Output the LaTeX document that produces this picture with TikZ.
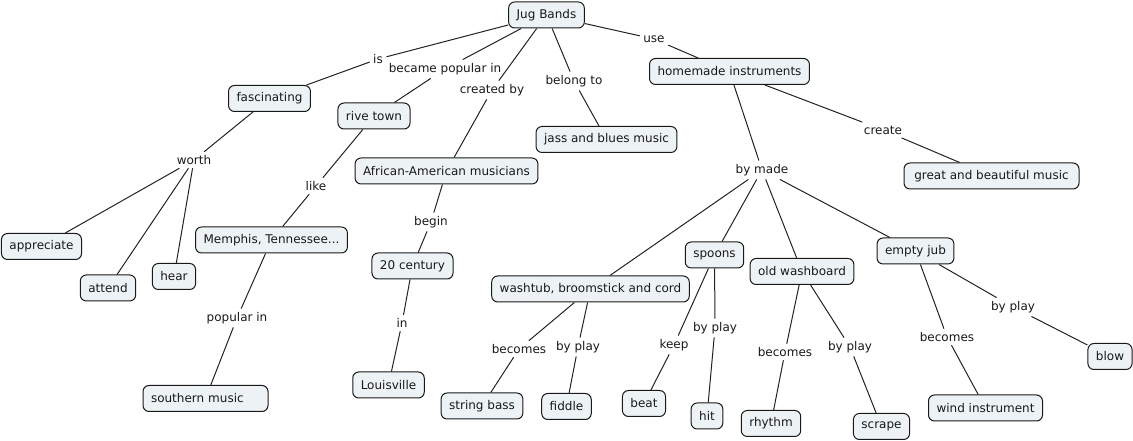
\documentclass[tikz,border=0pt]{standalone}
\usepackage{fontspec}
\setmainfont{DejaVu Sans}
\usetikzlibrary{positioning}
\definecolor{conceptfill}{RGB}{237,243,245}
\definecolor{linegray}{RGB}{35,35,35}

\begin{document}
\begin{tikzpicture}[
        x=0.75pt, y=-0.75pt,
        every node/.style={font=\fontsize{9}{11}\selectfont, text=black!90},
        concept/.style={draw=black!90, line width=0.75pt, rectangle, rounded corners=4.5pt, fill=conceptfill, minimum height=19.5pt, inner xsep=6pt, inner ysep=0pt},
        link/.style={rectangle, inner sep=2.5pt},
        conn/.style={draw=linegray, line width=0.75pt}
    ]
        \useasboundingbox (0,0) rectangle (1133,441);

        % Concetti
        \node [concept] (jug) at (546.5,15) {Jug Bands};
        \node [concept] (fasc) at (269.5,98.5) {fascinating};
        \node [concept] (rive) at (374,116) {rive town};
        \node [concept] (afro) at (446.5,171) {African-American musicians};
        \node [concept] (jass) at (606.5,139.5) {jass and blues music};
        \node [concept] (home) at (729.5,71.5) {homemade instruments};
        \node [concept, minimum width=131.25pt] (great) at (991.5,176) {great and beautiful music};
        \node [concept] (appr) at (41.5,246.5) {appreciate};
        \node [concept] (attend) at (108,288) {attend};
        \node [concept] (hear) at (174,276.5) {hear};
        \node [concept] (memphis) at (271.5,240) {Memphis, Tennessee...};
        \node [concept, text width=81.75pt, align=left] (south) at (205.5,398.5) {southern music};
        \node [concept] (cent) at (412.5,266) {20 century};
        \node [concept] (louis) at (388.5,385) {Louisville};
        \node [concept] (washtub) at (590.5,289) {washtub, broomstick and cord};
        \node [concept] (spoons) at (714.5,255) {spoons};
        \node [concept] (board) at (802,271.5) {old washboard};
        \node [concept] (jub) at (915.5,251) {empty jub};
        \node [concept] (bass) at (482,406) {string bass};
        \node [concept] (fiddle) at (566.5,406.5) {fiddle};
        \node [concept] (beat) at (644,403.5) {beat};
        \node [concept] (hit) at (707,416) {hit};
        \node [concept] (rhythm) at (771,423.5) {rhythm};
        \node [concept] (scrape) at (881.5,426.5) {scrape};
        \node [concept] (wind) at (985.5,408) {wind instrument};
        \node [concept] (blow) at (1110,356.5) {blow};

        % Frasi di collegamento
        \node [link] (is) at (378,59) {is};
        \node [link] (popular) at (445,69) {became popular in};
        \node [link] (created) at (492,90) {created by};
        \node [link] (belong) at (574,81) {belong to};
        \node [link] (use) at (654,39) {use};
        \node [link] (create) at (883,130) {create};
        \node [link] (made) at (762,170) {by made};
        \node [link] (worth) at (194,160) {worth};
        \node [link] (like) at (316,186) {like};
        \node [link] (popin) at (237,318) {popular in};
        \node [link] (begin) at (431,222) {begin};
        \node [link] (in) at (402,323) {in};
        \node [link] (becA) at (519,349) {becomes};
        \node [link] (playA) at (578,347) {by play};
        \node [link] (keep) at (674,345) {keep};
        \node [link] (playB) at (715,328) {by play};
        \node [link] (becB) at (785,352) {becomes};
        \node [link] (playC) at (850,347) {by play};
        \node [link] (becC) at (947,337) {becomes};
        \node [link] (playD) at (1013,307) {by play};

        % Collegamenti
        \draw [conn] (jug) -- (is) -- (fasc);
        \draw [conn] (jug) -- (popular) -- (rive);
        \draw [conn] (jug) -- (created) -- (afro);
        \draw [conn] (jug) -- (belong) -- (jass);
        \draw [conn] (jug) -- (use) -- (home);
        \draw [conn] (home) -- (create) -- (great);
        \draw [conn] (home) -- (made);
        \draw [conn] (made) -- (washtub);
        \draw [conn] (made) -- (spoons);
        \draw [conn] (made) -- (board);
        \draw [conn] (made) -- (jub);
        \draw [conn] (fasc) -- (worth);
        \draw [conn] (worth) -- (appr);
        \draw [conn] (worth) -- (attend);
        \draw [conn] (worth) -- (hear);
        \draw [conn] (rive) -- (like) -- (memphis);
        \draw [conn] (memphis) -- (popin) -- (south);
        \draw [conn] (afro) -- (begin) -- (cent);
        \draw [conn] (cent) -- (in) -- (louis);
        \draw [conn] (washtub) -- (becA) -- (bass);
        \draw [conn] (washtub) -- (playA) -- (fiddle);
        \draw [conn] (spoons) -- (keep) -- (beat);
        \draw [conn] (spoons) -- (playB) -- (hit);
        \draw [conn] (board) -- (becB) -- (rhythm);
        \draw [conn] (board) -- (playC) -- (scrape);
        \draw [conn] (jub) -- (becC) -- (wind);
        \draw [conn] (jub) -- (playD) -- (blow);
    \end{tikzpicture}
\end{document}
